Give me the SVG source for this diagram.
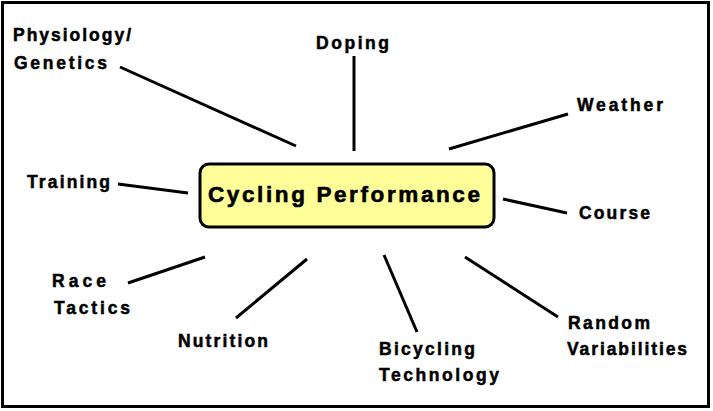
<svg xmlns="http://www.w3.org/2000/svg" width="713" height="411" viewBox="0 0 713 411">
<style>
.lbl{font-family:"Liberation Sans",Arial,sans-serif;font-weight:bold;font-size:17.5px;fill:#000;stroke:#000;stroke-width:0.5px}
.ctr{font-family:"Liberation Sans",Arial,sans-serif;font-weight:bold;font-size:22.5px;fill:#000;stroke:#000;stroke-width:0.6px}
.con line{stroke:#000;stroke-width:3;stroke-linecap:butt}
</style>
<rect x="2.5" y="2.5" width="706" height="404" fill="#fff" stroke="#000" stroke-width="3"/>
<g id="connectors" class="con">
<line x1="120" y1="67" x2="296" y2="146"/>
<line x1="354" y1="56" x2="354" y2="151"/>
<line x1="449" y1="149" x2="568" y2="114"/>
<line x1="118" y1="184" x2="188" y2="193"/>
<line x1="503" y1="199" x2="567" y2="213"/>
<line x1="128" y1="283" x2="205" y2="257"/>
<line x1="236" y1="318" x2="307" y2="259"/>
<line x1="384" y1="255" x2="417" y2="332"/>
<line x1="465" y1="257" x2="558" y2="317"/>
</g>
<g id="center">
<rect x="200" y="164" width="294" height="63" rx="9" fill="#ffff99" stroke="#000" stroke-width="3"/>
<text class="ctr" x="208" y="202" textLength="272" lengthAdjust="spacing">Cycling Performance</text>
</g>
<g id="physiology"><text class="lbl" x="13" y="41" textLength="118" lengthAdjust="spacing">Physiology/</text><text class="lbl" x="14" y="69" textLength="93" lengthAdjust="spacing">Genetics</text></g>
<g id="doping"><text class="lbl" x="316" y="49" textLength="73" lengthAdjust="spacing">Doping</text></g>
<g id="weather"><text class="lbl" x="577" y="111" textLength="86" lengthAdjust="spacing">Weather</text></g>
<g id="training"><text class="lbl" x="27" y="188" textLength="83" lengthAdjust="spacing">Training</text></g>
<g id="course"><text class="lbl" x="579" y="219" textLength="71" lengthAdjust="spacing">Course</text></g>
<g id="race"><text class="lbl" x="52" y="287" textLength="54" lengthAdjust="spacing">Race</text><text class="lbl" x="54" y="314" textLength="76" lengthAdjust="spacing">Tactics</text></g>
<g id="nutrition"><text class="lbl" x="178" y="347" textLength="90" lengthAdjust="spacing">Nutrition</text></g>
<g id="bicycling"><text class="lbl" x="379" y="355" textLength="96" lengthAdjust="spacing">Bicycling</text><text class="lbl" x="379" y="381" textLength="120" lengthAdjust="spacing">Technology</text></g>
<g id="random"><text class="lbl" x="568" y="329" textLength="82" lengthAdjust="spacing">Random</text><text class="lbl" x="567" y="355" textLength="120" lengthAdjust="spacing">Variabilities</text></g>
</svg>
